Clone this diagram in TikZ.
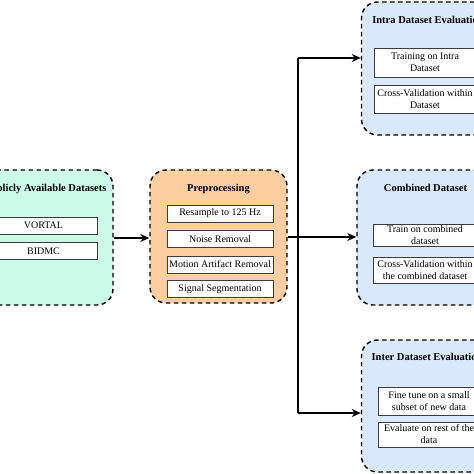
\documentclass[tikz,border=0pt]{standalone}
\usepackage{fontspec}
\setmainfont{Liberation Serif}
\usetikzlibrary{arrows.meta}
\definecolor{mint}{RGB}{204,252,232}
\definecolor{peach}{RGB}{252,206,160}
\definecolor{skyb}{RGB}{218,232,252}
\definecolor{innerline}{RGB}{60,60,60}
\tikzset{
  outerbox/.style={draw=black, line width=1.4pt, dash pattern=on 4.5pt off 3.5pt, rounded corners=16pt, minimum width=137pt, inner sep=0pt},
  innerbox/.style={draw=innerline, fill=white, line width=0.8pt, inner sep=0pt, align=center, font=\fontsize{10}{12}\selectfont},
  titletext/.style={font=\fontsize{10.5}{12}\selectfont\bfseries, inner sep=0pt},
  arr/.style={line width=1.5pt, -{Stealth[length=9pt,width=8pt]}},
  plainline/.style={line width=1.5pt}
}
\begin{document}
\begin{tikzpicture}[x=1pt,y=-1pt]
\useasboundingbox (0,0) rectangle (474,474);
\clip (0,0) rectangle (474,474);
% outer boxes
\node[outerbox, fill=mint, minimum height=135pt] (pub) at (44.5,237.5) {};
\node[outerbox, fill=peach, minimum height=133pt] (pre) at (218.5,236.5) {};
\node[outerbox, fill=skyb, minimum height=133pt] (intra) at (430,68.5) {};
\node[outerbox, fill=skyb, minimum height=135pt] (comb) at (425.5,237.5) {};
\node[outerbox, fill=skyb, minimum height=132pt] (inter) at (430,406) {};
% titles
\node[titletext] (pubt) at (45.5,189) {Publicly Available Datasets};
\node[titletext] (pret) at (218.5,189) {Preprocessing};
\node[titletext] (intrat) at (428,20) {Intra Dataset Evaluation};
\node[titletext] (combt) at (425.5,188) {Combined Dataset};
\node[titletext] (intert) at (427,357) {Inter Dataset Evaluation};
% left inner
\node[innerbox, minimum width=107pt, minimum height=17pt] (vortal) at (43.5,225.5) {VORTAL};
\node[innerbox, minimum width=107pt, minimum height=17pt] (bidmc) at (43.5,251) {BIDMC};
% preprocessing inner
\node[innerbox, minimum width=106pt, minimum height=17pt] (p1) at (220,213.5) {Resample to 125 Hz};
\node[innerbox, minimum width=106pt, minimum height=17pt] (p2) at (220,239) {Noise Removal};
\node[innerbox, minimum width=106pt, minimum height=17pt] (p3) at (220,264.5) {Motion Artifact Removal};
\node[innerbox, minimum width=106pt, minimum height=17pt] (p4) at (220,289) {Signal Segmentation};
% intra inner
\node[innerbox, minimum width=102pt, minimum height=29pt] (i1) at (425,62.5) {Training on Intra\\Dataset};
\node[innerbox, minimum width=102pt, minimum height=28pt] (i2) at (425,99) {Cross-Validation within\\Dataset};
% combined inner
\node[innerbox, minimum width=104pt, minimum height=22pt] (c1) at (425,235.5) {Train on combined\\dataset};
\node[innerbox, minimum width=104pt, minimum height=26pt] (c2) at (425,270) {Cross-Validation within\\the combined dataset};
% inter inner
\node[innerbox, minimum width=102pt, minimum height=28pt] (e1) at (429,401) {Fine tune on a small\\subset of new data};
\node[innerbox, minimum width=102pt, minimum height=25pt] (e2) at (429,434.5) {Evaluate on rest of the\\data};
% connectors
\draw[arr] (pub.east |- 0,238) -- (pre.west |- 0,238);
\coordinate (split) at (298,237);
\coordinate (jt) at (298,58);
\coordinate (jb) at (298,413);
\draw[plainline] (pre.east |- split) -- (split);
\draw[arr] (split) -- (split -| comb.west);
\draw[plainline] (jb) -- (jt);
\draw[arr] (jt) -- (jt -| intra.west);
\draw[arr] (jb) -- (jb -| inter.west);
\end{tikzpicture}
\end{document}
